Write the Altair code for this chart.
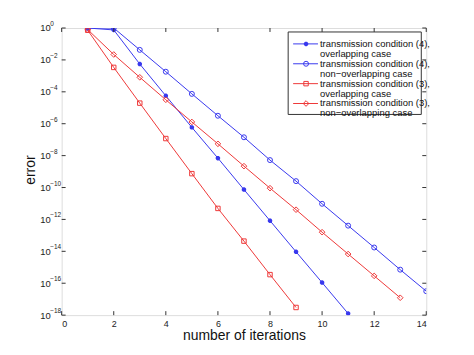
import altair as alt
import pandas as pd

# ---- data (log10 of error) ----
iters_tc4_ov = [1, 2, 3, 4, 5, 6, 7, 8, 9, 10, 11]
log_tc4_ov = [0.0, -0.12, -2.26, -4.25, -6.23, -8.16, -10.13, -12.08, -14.03, -15.96, -17.9]

iters_tc4_non = [1, 2, 3, 4, 5, 6, 7, 8, 9, 10, 11, 12, 13, 14]
log_tc4_non = [0.0, 0.0, -1.37, -2.74, -4.13, -5.5, -6.85, -8.28, -9.6, -11.02, -12.39, -13.76, -15.15, -16.5]

iters_tc3_ov = [1, 2, 3, 4, 5, 6, 7, 8, 9]
log_tc3_ov = [-0.14, -2.47, -4.71, -6.93, -9.13, -11.31, -13.36, -15.46, -17.52]

iters_tc3_non = [1, 2, 3, 4, 5, 6, 7, 8, 9, 10, 11, 12, 13]
log_tc3_non = [-0.1, -1.66, -3.09, -4.5, -5.89, -7.26, -8.66, -10.04, -11.39, -12.8, -14.17, -15.54, -16.91]

series_names = [
    "transmission condition (4),\noverlapping case",
    "transmission condition (4),\nnon\u2212overlapping case",
    "transmission condition (3),\noverlapping case",
    "transmission condition (3),\nnon\u2212overlapping case",
]
x_ticks = [0, 2, 4, 6, 8, 10, 12, 14]
y_tick_exps = [0, -2, -4, -6, -8, -10, -12, -14, -16, -18]

BLUE = "#3838ee"
RED = "#ee3838"
FRAME = "#333333"
W, H = 367, 289
FONT = "Liberation Sans"

ASTER = "M-1,0H1M0,-1V1M-0.7,-0.7L0.7,0.7M-0.7,0.7L0.7,-0.7"
styles = [
    dict(color=BLUE, shape=ASTER, filled=False, size=20, sw=1.6),
    dict(color=BLUE, shape="circle", filled=False, size=25, sw=1),
    dict(color=RED, shape="square", filled=False, size=20, sw=1),
    dict(color=RED, shape="diamond", filled=False, size=32, sw=1),
]
all_x = [iters_tc4_ov, iters_tc4_non, iters_tc3_ov, iters_tc3_non]
all_y = [log_tc4_ov, log_tc4_non, log_tc3_ov, log_tc3_non]

xscale = alt.Scale(domain=[0, 14], nice=False)
yscale = alt.Scale(type="log", domain=[1e-18, 1], nice=False)

layers = []
for i in range(4):
    df = pd.DataFrame({"x": all_x[i], "err": [10 ** v for v in all_y[i]]})
    st = styles[i]
    base = alt.Chart(df)
    enc_x = alt.X("x:Q", scale=xscale,
                  axis=alt.Axis(values=x_ticks, title="number of iterations", ticks=False, domain=False,
                                grid=False, labelPadding=4, labelFontSize=9, labelFont=FONT,
                                labelColor="#222", titleFont=FONT, titleFontSize=14,
                                titleFontWeight="normal", titleColor="#111", titleY=21,
                                titleBaseline="middle"))
    enc_y = alt.Y("err:Q", scale=yscale,
                  axis=alt.Axis(values=[10.0 ** e for e in y_tick_exps], title="error", ticks=False,
                                domain=False, grid=False, labelExpr="'10'", labelAlign="left",
                                labelPadding=22, labelFontSize=9.5, labelFont=FONT, labelColor="#222",
                                titleFont=FONT, titleFontSize=14, titleFontWeight="normal",
                                titleColor="#111", titleX=-31, titleY=H / 2 - 2, titleAngle=270,
                                titleBaseline="middle", titleAlign="center"))
    line = base.mark_line(color=st["color"], strokeWidth=1, clip=True).encode(x=enc_x, y=enc_y)
    pts = base.mark_point(color=st["color"], shape=st["shape"], filled=st["filled"], size=st["size"],
                          strokeWidth=st["sw"], opacity=1, clip=True).encode(x="x:Q", y="err:Q")
    layers += [line, pts]

# exponent superscripts for the y tick labels
exp_df = pd.DataFrame({"t": [10.0 ** e for e in y_tick_exps],
                       "lab": [str(e).replace("-", "\u2212") for e in y_tick_exps]})
layers.append(alt.Chart(exp_df).mark_text(align="left", baseline="middle", fontSize=6.5, font=FONT,
                                          color="#222", dy=-4).encode(
    y="t:Q", x=alt.value(-11.5), text="lab:N"))

# inward ticks on all four sides
xt = pd.DataFrame({"t": x_ticks})
yt = pd.DataFrame({"t": [10.0 ** e for e in y_tick_exps]})
tick_color = FRAME
layers.append(alt.Chart(xt).mark_rule(color=tick_color, strokeWidth=1).encode(
    x="t:Q", y=alt.value(H), y2=alt.value(H - 4)))
layers.append(alt.Chart(xt).mark_rule(color=tick_color, strokeWidth=1).encode(
    x="t:Q", y=alt.value(0), y2=alt.value(4)))
layers.append(alt.Chart(yt).mark_rule(color=tick_color, strokeWidth=1).encode(
    y="t:Q", x=alt.value(0), x2=alt.value(4)))
layers.append(alt.Chart(yt).mark_rule(color=tick_color, strokeWidth=1).encode(
    y="t:Q", x=alt.value(W), x2=alt.value(W - 4)))

# legend (manual, in pixel space of the plot area)
one = pd.DataFrame({"a": [0]})
LX0, LX1, LY0, LY1 = 228, 362, 4, 87
layers.append(alt.Chart(one).mark_rect(fill="white", stroke=FRAME, strokeWidth=1).encode(
    x=alt.value(LX0), x2=alt.value(LX1), y=alt.value(LY0), y2=alt.value(LY1)))
row_y = [16, 36, 56, 76]
for i in range(4):
    st = styles[i]
    ry = row_y[i]
    layers.append(alt.Chart(one).mark_rule(color=st["color"], strokeWidth=1).encode(
        x=alt.value(233), x2=alt.value(258), y=alt.value(ry)))
    layers.append(alt.Chart(one).mark_point(color=st["color"], shape=st["shape"], filled=st["filled"],
                                            size=st["size"], strokeWidth=st["sw"], opacity=1).encode(
        x=alt.value(246), y=alt.value(ry)))
    layers.append(alt.Chart(one).mark_text(align="left", baseline="middle", lineBreak="\n", lineHeight=10,
                                           fontSize=9.5, font=FONT, color="#111").encode(
        x=alt.value(260), y=alt.value(ry), text=alt.value(series_names[i])))

chart = alt.layer(*layers).properties(
    width=W, height=H, autosize=alt.AutoSizeParams(type="none"),
    padding={"left": 54, "top": 19, "right": 40, "bottom": 40},
).configure_view(stroke=FRAME, strokeWidth=1).configure(background="white")

chart.save("out.html", embed_options={"renderer": "svg", "actions": False})
